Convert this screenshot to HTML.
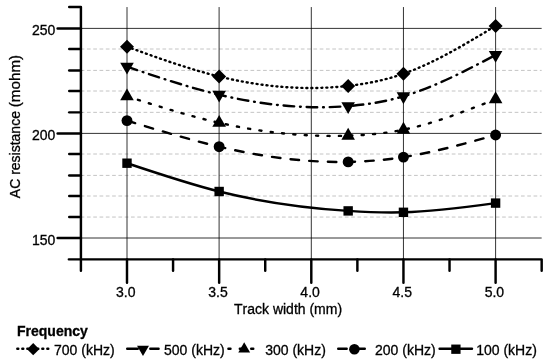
<!DOCTYPE html><html><head><meta charset="utf-8"><title>AC resistance vs track width</title>
<style>html,body{margin:0;padding:0;background:#fff}body{width:550px;height:364px;overflow:hidden}svg{display:block}text{font-family:"Liberation Sans",Arial,Helvetica,sans-serif;font-size:14px;fill:#000;font-kerning:none;stroke:#000;stroke-width:0.3px}</style></head><body>
<svg width="550" height="364" viewBox="0 0 550 364">
<rect width="550" height="364" fill="#fff"/>
<g stroke="#c4c4c4" stroke-width="1" stroke-dasharray="3.7 2.59" fill="none">
<line x1="80.67" y1="217.05" x2="541.67" y2="217.05"/>
<line x1="80.67" y1="196.00" x2="541.67" y2="196.00"/>
<line x1="80.67" y1="175.40" x2="541.67" y2="175.40"/>
<line x1="80.67" y1="154.00" x2="541.67" y2="154.00"/>
<line x1="80.67" y1="112.35" x2="541.67" y2="112.35"/>
<line x1="80.67" y1="91.00" x2="541.67" y2="91.00"/>
<line x1="80.67" y1="70.40" x2="541.67" y2="70.40"/>
<line x1="80.67" y1="49.00" x2="541.67" y2="49.00"/>
</g>
<g stroke="#000" stroke-width="0.8" fill="none">
<line x1="80.92" y1="238.00" x2="541.67" y2="238.00"/>
<line x1="80.92" y1="133.40" x2="541.67" y2="133.40"/>
<line x1="80.92" y1="28.40" x2="541.67" y2="28.40"/>
<line x1="127.00" y1="7.05" x2="127.00" y2="259.35"/>
<line x1="219.10" y1="7.05" x2="219.10" y2="259.35"/>
<line x1="311.30" y1="7.05" x2="311.30" y2="259.35"/>
<line x1="403.45" y1="7.05" x2="403.45" y2="259.35"/>
<line x1="495.60" y1="7.05" x2="495.60" y2="259.35"/>
</g>
<g stroke="#000" stroke-width="2.45" fill="none" stroke-linecap="round" stroke-linejoin="round">
<path d="M69.22,7.05 L80.92,7.05 L80.92,270.65"/>
<path d="M68.83,259.35 L541.67,259.35 L541.67,270.65"/>
<line x1="57.62" y1="238.00" x2="80.92" y2="238.00"/>
<line x1="69.22" y1="217.05" x2="80.92" y2="217.05"/>
<line x1="69.22" y1="196.00" x2="80.92" y2="196.00"/>
<line x1="69.22" y1="175.40" x2="80.92" y2="175.40"/>
<line x1="69.22" y1="154.00" x2="80.92" y2="154.00"/>
<line x1="57.62" y1="133.40" x2="80.92" y2="133.40"/>
<line x1="69.22" y1="112.35" x2="80.92" y2="112.35"/>
<line x1="69.22" y1="91.00" x2="80.92" y2="91.00"/>
<line x1="69.22" y1="70.40" x2="80.92" y2="70.40"/>
<line x1="69.22" y1="49.00" x2="80.92" y2="49.00"/>
<line x1="57.62" y1="28.40" x2="80.92" y2="28.40"/>
<line x1="127.00" y1="259.35" x2="127.00" y2="282.85"/>
<line x1="173.07" y1="259.35" x2="173.07" y2="270.65"/>
<line x1="219.15" y1="259.35" x2="219.15" y2="282.85"/>
<line x1="265.23" y1="259.35" x2="265.23" y2="270.65"/>
<line x1="311.30" y1="259.35" x2="311.30" y2="282.85"/>
<line x1="357.38" y1="259.35" x2="357.38" y2="270.65"/>
<line x1="403.45" y1="259.35" x2="403.45" y2="282.85"/>
<line x1="449.53" y1="259.35" x2="449.53" y2="270.65"/>
<line x1="495.60" y1="259.35" x2="495.60" y2="282.85"/>
</g>
<path d="M127.00,163.20 C157.72,173.49 188.43,183.78 219.15,191.50 C262.15,202.30 305.16,208.05 348.16,210.90 C366.59,212.12 385.02,212.81 403.45,212.30 C434.17,211.45 464.88,207.28 495.60,203.10" fill="none" stroke="#000" stroke-width="2.4" stroke-linecap="round"/>
<path d="M127.00,120.60 C157.72,130.03 188.43,139.46 219.15,146.70 C262.15,156.84 305.16,162.68 348.16,161.90 C366.59,161.56 385.02,160.01 403.45,157.10 C434.17,152.25 464.88,143.62 495.60,135.00" fill="none" stroke="#000" stroke-width="2.4" stroke-linecap="round" stroke-dasharray="8.5 10.2"/>
<path d="M127.00,96.40 C157.72,106.10 188.43,115.81 219.15,122.80 C262.15,132.59 305.16,137.06 348.16,135.70 C366.59,135.12 385.02,133.46 403.45,129.70 C434.17,123.43 464.88,111.32 495.60,99.20" fill="none" stroke="#000" stroke-width="2.4" stroke-linecap="round" stroke-dasharray="2.1 9.3"/>
<path d="M127.00,66.70 C157.72,77.02 188.43,87.34 219.15,94.70 C262.15,105.00 305.16,109.50 348.16,106.10 C366.59,104.64 385.02,101.74 403.45,96.30 C434.17,87.23 464.88,71.12 495.60,55.00" fill="none" stroke="#000" stroke-width="2.4" stroke-linecap="round" stroke-dasharray="10.6 5.85 0.8 5.85"/>
<path d="M127.00,46.75 C157.72,57.85 188.43,68.94 219.15,76.50 C262.15,87.08 305.16,90.74 348.16,85.90 C366.59,83.83 385.02,80.19 403.45,73.75 C434.17,63.01 464.88,44.45 495.60,25.90" fill="none" stroke="#000" stroke-width="2.4" stroke-linecap="round" stroke-dasharray="1.0 4.0"/>
<g fill="#000">
<rect x="122.30" y="158.50" width="9.40" height="9.40"/>
<rect x="214.45" y="186.80" width="9.40" height="9.40"/>
<rect x="343.46" y="206.20" width="9.40" height="9.40"/>
<rect x="398.75" y="207.60" width="9.40" height="9.40"/>
<rect x="490.90" y="198.40" width="9.40" height="9.40"/>
<circle cx="127.00" cy="120.60" r="5.45"/>
<circle cx="219.15" cy="146.70" r="5.45"/>
<circle cx="348.16" cy="161.90" r="5.45"/>
<circle cx="403.45" cy="157.10" r="5.45"/>
<circle cx="495.60" cy="135.00" r="5.45"/>
<path d="M120.20,100.33 L133.80,100.33 L127.00,88.55Z"/>
<path d="M212.35,126.73 L225.95,126.73 L219.15,114.95Z"/>
<path d="M341.36,139.63 L354.96,139.63 L348.16,127.85Z"/>
<path d="M396.65,133.63 L410.25,133.63 L403.45,121.85Z"/>
<path d="M488.80,103.13 L502.40,103.13 L495.60,91.35Z"/>
<path d="M120.20,62.77 L133.80,62.77 L127.00,74.55Z"/>
<path d="M212.35,90.77 L225.95,90.77 L219.15,102.55Z"/>
<path d="M341.36,102.17 L354.96,102.17 L348.16,113.95Z"/>
<path d="M396.65,92.37 L410.25,92.37 L403.45,104.15Z"/>
<path d="M488.80,51.07 L502.40,51.07 L495.60,62.85Z"/>
<path d="M127.00,39.75 L134.00,46.75 L127.00,53.75 L120.00,46.75Z"/>
<path d="M219.15,69.50 L226.15,76.50 L219.15,83.50 L212.15,76.50Z"/>
<path d="M348.16,78.90 L355.16,85.90 L348.16,92.90 L341.16,85.90Z"/>
<path d="M403.45,66.75 L410.45,73.75 L403.45,80.75 L396.45,73.75Z"/>
<path d="M495.60,18.90 L502.60,25.90 L495.60,32.90 L488.60,25.90Z"/>
</g>
<text x="55.4" y="244.60" text-anchor="end">150</text>
<text x="55.4" y="140.00" text-anchor="end">200</text>
<text x="55.4" y="35.00" text-anchor="end">250</text>
<text x="125.80" y="296.8" text-anchor="middle">3.0</text>
<text x="217.95" y="296.8" text-anchor="middle">3.5</text>
<text x="310.10" y="296.8" text-anchor="middle">4.0</text>
<text x="402.25" y="296.8" text-anchor="middle">4.5</text>
<text x="494.40" y="296.8" text-anchor="middle">5.0</text>
<text x="234.0" y="313.8">Track width (mm)</text>
<text transform="translate(20.4,198.2) rotate(-90)"><tspan x="0">AC resistance </tspan><tspan x="91.0" textLength="52.3" lengthAdjust="spacingAndGlyphs">(mohm)</tspan></text>
<text x="17" y="335.7" font-weight="bold">Frequency</text>
<line x1="17.3" y1="348.7" x2="49.5" y2="348.7" stroke="#000" stroke-width="2.4" stroke-linecap="round" stroke-dasharray="1.0 4.0"/>
<g fill="#000"><path d="M33.20,343.11 L39.29,349.20 L33.20,355.29 L27.11,349.20Z"/></g>
<text x="54.0" y="354.7">700 (kHz)</text>
<line x1="127.2" y1="348.7" x2="158.6" y2="348.7" stroke="#000" stroke-width="2.4" stroke-linecap="round" stroke-dasharray="10.6 5.85 0.8 5.85"/>
<g fill="#000"><path d="M137.02,345.75 L148.98,345.75 L143.00,356.11Z"/></g>
<text x="164.0" y="354.7">500 (kHz)</text>
<line x1="228.4" y1="348.7" x2="258" y2="348.7" stroke="#000" stroke-width="2.4" stroke-linecap="round" stroke-dasharray="2.1 9.3"/>
<g fill="#000"><path d="M238.28,352.62 L250.12,352.62 L244.20,342.37Z"/></g>
<text x="265.2" y="354.7">300 (kHz)</text>
<line x1="338.2" y1="348.7" x2="364.8" y2="348.7" stroke="#000" stroke-width="2.4" stroke-linecap="round" stroke-dasharray="8.5 10.2"/>
<g fill="#000"><circle cx="354.40" cy="349.20" r="5.29"/></g>
<text x="375.0" y="354.7">200 (kHz)</text>
<line x1="439.6" y1="348.7" x2="472" y2="348.7" stroke="#000" stroke-width="2.4" stroke-linecap="round"/>
<g fill="#000"><rect x="451.25" y="344.55" width="9.31" height="9.31"/></g>
<text x="476.2" y="354.7">100 (kHz)</text>
</svg></body></html>
